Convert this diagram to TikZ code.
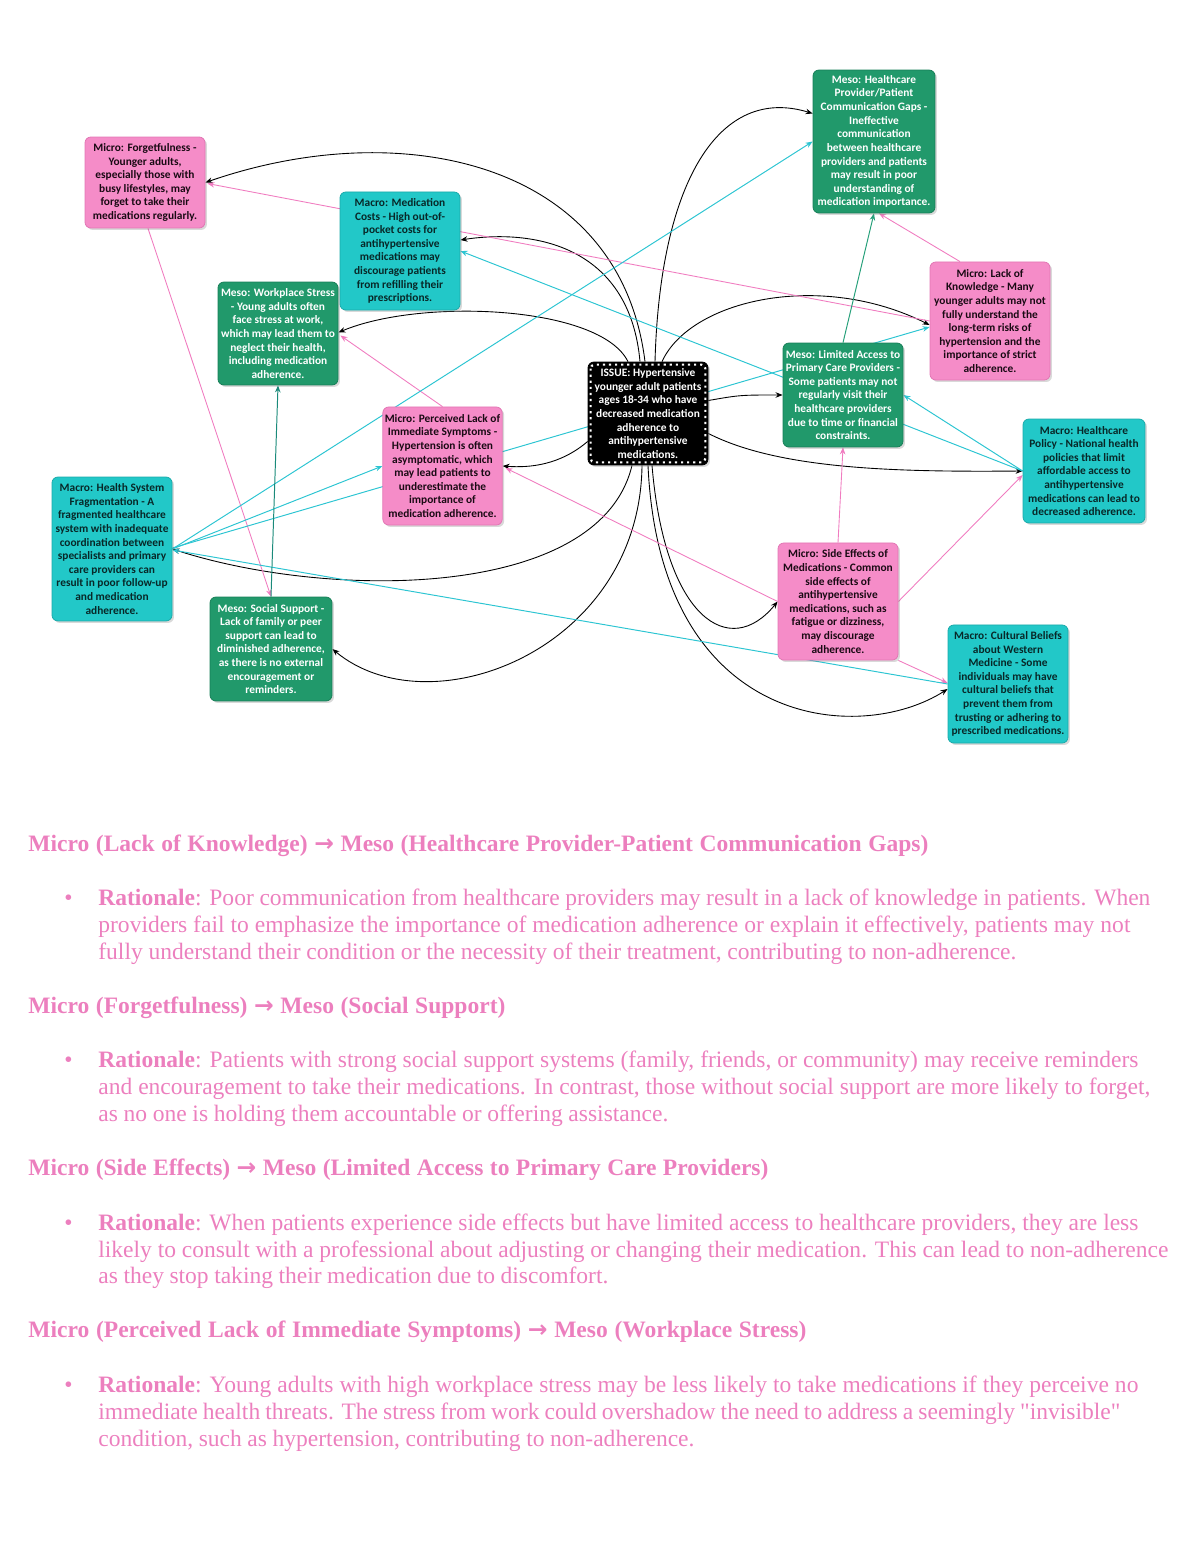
\documentclass[tikz,border=0pt]{standalone}
\usepackage{fontspec}
\setmainfont{Liberation Serif}[Ligatures=TeXOff]
\newfontfamily\nodefont{Carlito}
\newfontfamily\arrowfont{DejaVu Sans}
\usetikzlibrary{shadows,arrows.meta}
\pgfdeclarelayer{bg}
\pgfsetlayers{bg,main}
\definecolor{pinkfill}{HTML}{F58CC8}
\definecolor{pinkdraw}{HTML}{E276B4}
\definecolor{cyanfill}{HTML}{22C8C8}
\definecolor{cyandraw}{HTML}{1AAAAA}
\definecolor{greenfill}{HTML}{21996B}
\definecolor{greendraw}{HTML}{187F58}
\definecolor{pinkline}{HTML}{F07CC0}
\definecolor{cyanline}{HTML}{2CC5D2}
\definecolor{greenline}{HTML}{26A07A}
\definecolor{tealline}{HTML}{1A8A7A}
\definecolor{txtpink}{HTML}{EC7FBE}
\definecolor{darktxt}{HTML}{1A0A14}
\definecolor{darkteal}{HTML}{082828}
\newcommand\harrow{{\arrowfont\bfseries →}}
\tikzset{
  box/.style={rounded corners=3pt, line width=0.4pt, align=center, inner sep=1pt,
    minimum width=61.2pt,
    font=\nodefont\bfseries\fontsize{5.8}{6.94}\selectfont,
    drop shadow={opacity=0.3, shadow xshift=1pt, shadow yshift=-1pt}},
  micro/.style={box, fill=pinkfill, draw=pinkdraw, text=darktxt},
  macro/.style={box, fill=cyanfill, draw=cyandraw, text=darkteal},
  meso/.style={box, fill=greenfill, draw=greendraw, text=white},
  issuebox/.style={box, fill=black, draw=black, text=white},
  tip/.style={-{Stealth[length=3.6pt,width=2.8pt]}},
  blk/.style={tip, draw=black, line width=0.45pt},
  pk/.style={tip, draw=pinkline, line width=0.45pt},
  cy/.style={tip, draw=cyanline, line width=0.5pt},
  gr/.style={tip, draw=greenline, line width=0.5pt},
  tl/.style={tip, draw=tealline, line width=0.5pt},
  txt/.style={anchor=base west, inner sep=0pt, text=txtpink, font=\fontsize{12}{13.8}\selectfont},
}
\begin{document}
\begin{tikzpicture}[x=0.51pt,y=-0.51pt]
\useasboundingbox (0,0) rectangle (1200,1553);

% nodes
\node[micro, minimum height=46.4pt] (forget) at (145,182.5) {Micro: Forgetfulness -\\Younger adults,\\especially those with\\busy lifestyles, may\\forget to take their\\medications regularly.};
\node[macro, minimum height=60.2pt] (medcost) at (400,251) {Macro: Medication\\Costs - High out-of-\\pocket costs for\\antihypertensive\\medications may\\discourage patients\\from refilling their\\prescriptions.};
\node[meso, minimum height=52.5pt] (work) at (278,333.5) {Meso: Workplace Stress\\- Young adults often\\face stress at work,\\which may lead them to\\neglect their health,\\including medication\\adherence.};
\node[meso, minimum height=72.9pt, minimum width=62.2pt] (comm) at (874,141.5) {Meso: Healthcare\\Provider/Patient\\Communication Gaps -\\Ineffective\\communication\\between healthcare\\providers and patients\\may result in poor\\understanding of\\medication importance.};
\node[micro, minimum height=60.2pt] (lack) at (990,321) {Micro: Lack of\\Knowledge - Many\\younger adults may not\\fully understand the\\long-term risks of\\hypertension and the\\importance of strict\\adherence.};
\node[meso, minimum height=53pt] (limited) at (843,395) {Meso: Limited Access to\\Primary Care Providers -\\Some patients may not\\regularly visit their\\healthcare providers\\due to time or financial\\constraints.};
\node[issuebox, minimum height=52.5pt] (issue) at (648,413.5) {ISSUE: Hypertensive\\younger adult patients\\ages 18-34 who have\\decreased medication\\adherence to\\antihypertensive\\medications.};
\draw[white, dotted, line width=1.1pt, rounded corners=2pt] ([shift={(3,3)}]issue.north west) rectangle ([shift={(-3,-3)}]issue.south east);
\node[micro, minimum height=60.2pt, minimum width=60.7pt] (perc) at (442.5,466) {Micro: Perceived Lack of\\Immediate Symptoms -\\Hypertension is often\\asymptomatic, which\\may lead patients to\\underestimate the\\importance of\\medication adherence.};
\node[macro, minimum height=73.4pt] (hsf) at (112,549) {Macro: Health System\\Fragmentation - A\\fragmented healthcare\\system with inadequate\\coordination between\\specialists and primary\\care providers can\\result in poor follow-up\\and medication\\adherence.};
\node[macro, minimum height=53pt, minimum width=62.2pt] (policy) at (1084,471) {Macro: Healthcare\\Policy - National health\\policies that limit\\affordable access to\\antihypertensive\\medications can lead to\\decreased adherence.};
\node[micro, minimum height=59.7pt] (side) at (838,601.5) {Micro: Side Effects of\\Medications - Common\\side effects of\\antihypertensive\\medications, such as\\fatigue or dizziness,\\may discourage\\adherence.};
\node[meso, minimum height=53pt, minimum width=62.2pt] (social) at (271,649) {Meso: Social Support -\\Lack of family or peer\\support can lead to\\diminished adherence,\\as there is no external\\encouragement or\\reminders.};
\node[macro, minimum height=60.2pt] (cultural) at (1008,684) {Macro: Cultural Beliefs\\about Western\\Medicine - Some\\individuals may have\\cultural beliefs that\\prevent them from\\trusting or adhering to\\prescribed medications.};

\begin{pgfonlayer}{bg}
% black curves from the issue
\draw[blk] ([shift={(-3,0)}]issue.north) .. controls (620,160) and (400,115) .. (forget.east);
\draw[blk] ([shift={(-8,0)}]issue.north) .. controls (630,250) and (540,228) .. ([shift={(0,-11)}]medcost.east);
\draw[blk] ([shift={(-20,0)}]issue.north) .. controls (600,305) and (420,298) .. ([shift={(0,-1)}]work.east);
\draw[blk] ([shift={(7,0)}]issue.north) .. controls (660,180) and (720,85) .. ([shift={(0,-28)}]comm.west);
\draw[blk] ([shift={(14,0)}]issue.north) .. controls (690,300) and (820,270) .. ([shift={(0,4)}]lack.west);
\draw[blk] ([shift={(0,-13)}]issue.east) .. controls (740,395) .. (limited.west);
\draw[blk] ([shift={(0,20)}]issue.east) .. controls (780,470) and (900,472) .. (policy.west);
\draw[blk] ([shift={(4,0)}]issue.south) .. controls (665,620) and (730,660) .. (side.west);
\draw[blk] (issue.south) .. controls (660,730) and (860,745) .. ([shift={(0,5)}]cultural.west);
\draw[blk] ([shift={(-6,0)}]issue.south) .. controls (640,650) and (430,730) .. (social.east);
\draw[blk] ([shift={(-16,0)}]issue.south) .. controls (600,600) and (330,600) .. (hsf.east);
\draw[blk] ([shift={(0,28)}]issue.west) .. controls (560,465) and (530,468) .. (perc.east);
% pink (micro)
\draw[pk] (lack.west) -- ([shift={(2,1)}]forget.east);
\draw[pk] ([shift={(-30,0)}]lack.north) -- ([shift={(5,0)}]comm.south);
\draw[pk] ([shift={(3,0)}]forget.south) -- (social.north);
\draw[pk] (perc.north) -- ([shift={(2,2)}]work.east);
\draw[pk] (side.north) -- (limited.south);
\draw[pk] (side.east) -- ([shift={(0,4)}]policy.west);
\draw[pk] (side.south east) -- ([shift={(0,-1)}]cultural.west);
\draw[pk] (side.west) -- ([shift={(3,2)}]perc.east);
% cyan (macro)
\draw[cy] (hsf.east) -- (comm.west);
\draw[cy] (hsf.east) -- (perc.west);
\draw[cy] ([shift={(0,-1)}]hsf.east) -- ([shift={(0,6)}]lack.west);
\draw[cy] (cultural.west) -- ([shift={(0,1)}]hsf.east);
\draw[cy] (policy.west) -- (limited.east);
\draw[cy] (policy.west) -- (medcost.east);
% green / teal (meso)
\draw[gr] (limited.north) -- (comm.south);
\draw[tl] (social.north) -- (work.south);
\end{pgfonlayer}

% text below
\node[txt] (h1) at (28,851) {\makebox[459pt][s]{\bfseries Micro (Lack of Knowledge) \harrow{} Meso (Healthcare Provider-Patient Communication Gaps)}};
\node[txt] (b1) at (64,905) {•};
\node[txt] (l11) at (98,905) {\makebox[536.5pt][s]{\textbf{Rationale}: Poor communication from healthcare providers may result in a lack of knowledge in patients. When}};
\node[txt] (l12) at (98,932) {\makebox[526.3pt][s]{providers fail to emphasize the importance of medication adherence or explain it effectively, patients may not}};
\node[txt] (l13) at (98,959) {\makebox[468.2pt][s]{fully understand their condition or the necessity of their treatment, contributing to non-adherence.}};

\node[txt] (h2) at (28,1013) {\makebox[243.3pt][s]{\bfseries Micro (Forgetfulness) \harrow{} Meso (Social Support)}};
\node[txt] (b2) at (64,1067) {•};
\node[txt] (l21) at (98,1067) {\makebox[530.4pt][s]{\textbf{Rationale}: Patients with strong social support systems (family, friends, or community) may receive reminders}};
\node[txt] (l22) at (98,1094) {\makebox[536.5pt][s]{and encouragement to take their medications. In contrast, those without social support are more likely to forget,}};
\node[txt] (l23) at (98,1121) {\makebox[290.7pt][s]{as no one is holding them accountable or offering assistance.}};

\node[txt] (h3) at (28,1175) {\makebox[377.4pt][s]{\bfseries Micro (Side Effects) \harrow{} Meso (Limited Access to Primary Care Providers)}};
\node[txt] (b3) at (64,1230) {•};
\node[txt] (l31) at (98,1230) {\makebox[530.4pt][s]{\textbf{Rationale}: When patients experience side effects but have limited access to healthcare providers, they are less}};
\node[txt] (l32) at (98,1257) {\makebox[545.7pt][s]{likely to consult with a professional about adjusting or changing their medication. This can lead to non-adherence}};
\node[txt] (l33) at (98,1283) {\makebox[260.1pt][s]{as they stop taking their medication due to discomfort.}};

\node[txt] (h4) at (28,1337) {\makebox[396.8pt][s]{\bfseries Micro (Perceived Lack of Immediate Symptoms) \harrow{} Meso (Workplace Stress)}};
\node[txt] (b4) at (64,1392) {•};
\node[txt] (l41) at (98,1392) {\makebox[530.4pt][s]{\textbf{Rationale}: Young adults with high workplace stress may be less likely to take medications if they perceive no}};
\node[txt] (l42) at (98,1419) {\makebox[521.2pt][s]{immediate health threats. The stress from work could overshadow the need to address a seemingly "invisible"}};
\node[txt] (l43) at (98,1446) {\makebox[304pt][s]{condition, such as hypertension, contributing to non-adherence.}};
\end{tikzpicture}
\end{document}
